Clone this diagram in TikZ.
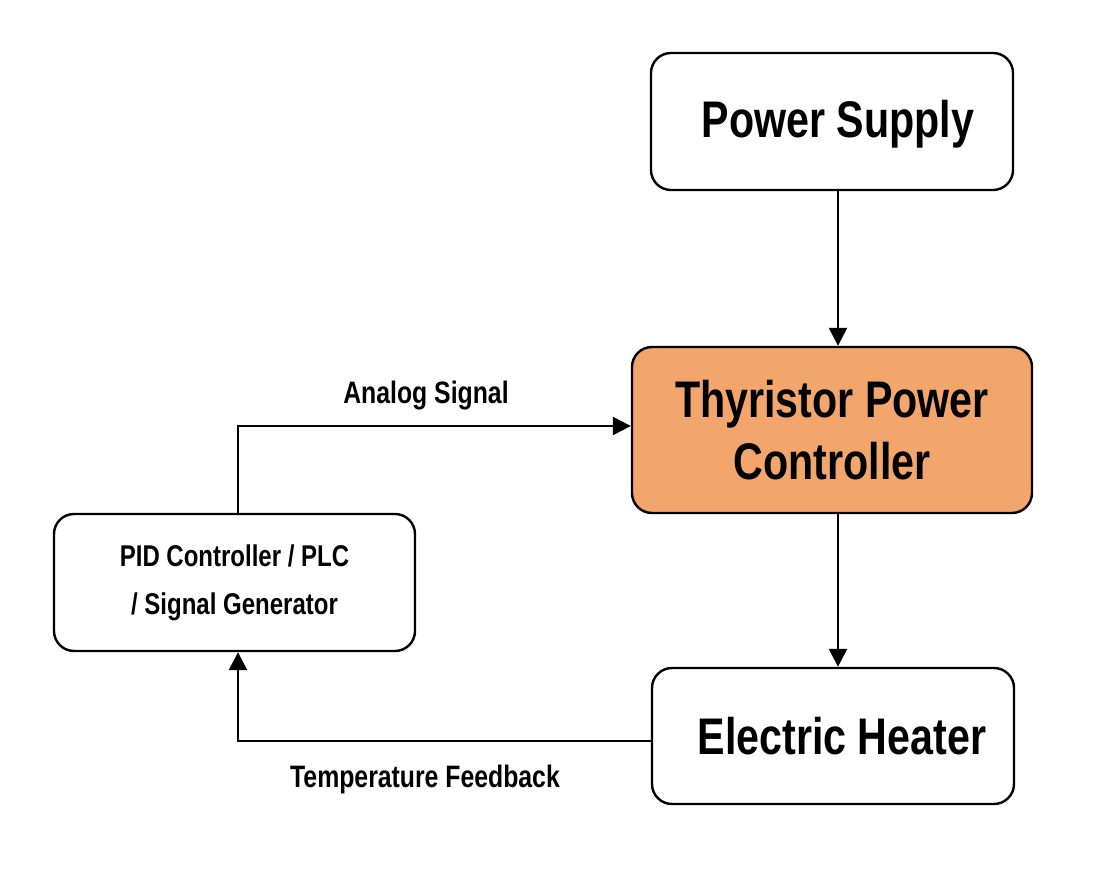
\documentclass[tikz,border=0pt]{standalone}
\usepackage{fontspec}
\setmainfont{Liberation Sans}[FakeStretch=0.8]
\usetikzlibrary{arrows.meta}
\definecolor{thyfill}{HTML}{F3A66B}
\tikzset{
  blk/.style={draw=black, line width=2.4pt, rounded corners=20pt, align=center, font=\bfseries},
  bigtxt/.style={font=\bfseries\fontsize{51.5}{61.5}\selectfont},
  conn/.style={line width=2.5pt, -{Triangle[length=18pt,width=18pt]}},
  lbl/.style={font=\bfseries\fontsize{31}{36}\selectfont, anchor=base, inner sep=0pt}
}
\begin{document}
\begin{tikzpicture}[x=1pt,y=-1pt]
\useasboundingbox (0,0) rectangle (1101,877);
\node[blk, bigtxt, minimum width=362pt, minimum height=137pt] (ps) at (832,121.5) {\hspace*{12pt}\raisebox{-3pt}[\height][\depth]{Power Supply}};
\node[blk, bigtxt, fill=thyfill, minimum width=400pt, minimum height=166pt] (tpc) at (832,430) {Thyristor Power\\Controller};
\node[blk, minimum width=361pt, minimum height=137pt, font=\bfseries\fontsize{30}{48}\selectfont] (pid) at (234.5,582.5) {PID Controller / PLC\\/ Signal Generator};
\node[blk, bigtxt, minimum width=362pt, minimum height=136pt] (eh) at (833,736) {\hspace*{18pt}Electric Heater};
\coordinate (c1) at (238,426);
\coordinate (c2) at (238,741);
\draw[conn] (ps.south -| 838,0) -- (tpc.north -| 838,0);
\draw[conn] (tpc.south -| 838,0) -- (eh.north -| 838,0);
\draw[conn] (pid.north -| c1) -- (c1) -- (tpc.west |- c1);
\draw[conn] (eh.west |- c2) -- (c2) -- (pid.south -| c2);
\node[lbl] (as) at (426,403) {Analog Signal};
\node[lbl] (tf) at (425,787) {Temperature Feedback};
\end{tikzpicture}
\end{document}
